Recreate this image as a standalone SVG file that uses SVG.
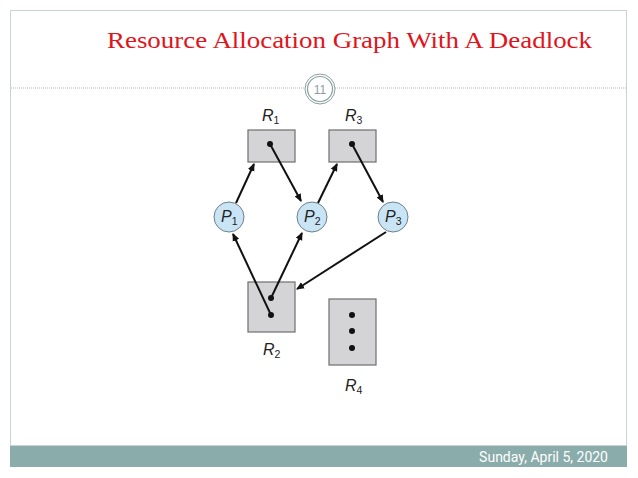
<svg xmlns="http://www.w3.org/2000/svg" width="638" height="478" viewBox="0 0 638 478">
<style>
.res{fill:#d4d4d6;stroke:#6e6e6e;stroke-width:1.2}
.proc{fill:#c9e4f5;stroke:#6e7f8a;stroke-width:1}
.dot{fill:#111}
.lbl{font-family:"Liberation Sans",Arial,sans-serif;font-style:italic;font-size:16px;fill:#222}
.sub{font-size:10.5px;font-style:normal}
.edge{stroke:#111;stroke-width:2;fill:none;marker-end:url(#ah)}
</style>
<defs>
<marker id="ah" markerWidth="8" markerHeight="8" refX="7" refY="4" orient="auto" markerUnits="userSpaceOnUse">
<path d="M0,0.5 L8,4 L0,7.5 Z" fill="#111"/>
</marker>
</defs>
<rect x="0" y="0" width="638" height="478" fill="#fff"/>
<rect x="10.5" y="10.5" width="616" height="435" fill="#fff" stroke="#c9d3d3" stroke-width="1"/>
<rect x="10" y="446" width="617" height="21" fill="#8aacab"/>
<text x="608" y="462" text-anchor="end" font-family="Roboto,'Liberation Sans',sans-serif" font-size="14" fill="#fff">Sunday, April 5, 2020</text>
<text x="107" y="48" textLength="485" lengthAdjust="spacingAndGlyphs" font-family="'Liberation Serif',serif" font-size="24" fill="#e0141b">Resource Allocation Graph With A Deadlock</text>
<line x1="11" y1="88" x2="626" y2="88" stroke="#a9b9b9" stroke-width="1" stroke-dasharray="1,1"/>
<circle cx="320" cy="89" r="15" fill="#fff" stroke="#8a9e9e" stroke-width="1"/>
<circle cx="320" cy="89" r="12.5" fill="#fff" stroke="#8a9e9e" stroke-width="1.2"/>
<text x="320" y="93.5" text-anchor="middle" font-family="'Liberation Sans',Arial,sans-serif" font-size="12" fill="#8a9e9e">11</text>

<g id="R1">
<rect class="res" x="248" y="130" width="47" height="32"/>
<circle class="dot" cx="270" cy="144" r="3"/>
<text class="lbl" x="262" y="121">R<tspan class="sub" dy="3">1</tspan></text>
</g>
<g id="R3">
<rect class="res" x="329" y="130" width="47" height="32"/>
<circle class="dot" cx="352" cy="144" r="3"/>
<text class="lbl" x="345" y="121">R<tspan class="sub" dy="3">3</tspan></text>
</g>
<g id="R2">
<rect class="res" x="248" y="282" width="47" height="50"/>
<circle class="dot" cx="271" cy="298" r="3"/>
<circle class="dot" cx="271" cy="315" r="3"/>
<text class="lbl" x="263" y="355">R<tspan class="sub" dy="3">2</tspan></text>
</g>
<g id="R4">
<rect class="res" x="329" y="299" width="47" height="66"/>
<circle class="dot" cx="352" cy="315" r="3"/>
<circle class="dot" cx="352" cy="331" r="3"/>
<circle class="dot" cx="352" cy="348" r="3"/>
<text class="lbl" x="345" y="391">R<tspan class="sub" dy="3">4</tspan></text>
</g>
<g id="P1">
<circle class="proc" cx="229" cy="217" r="15"/>
<text class="lbl" x="221" y="222">P<tspan class="sub" dy="3">1</tspan></text>
</g>
<g id="P2">
<circle class="proc" cx="312" cy="217" r="15"/>
<text class="lbl" x="304" y="222">P<tspan class="sub" dy="3">2</tspan></text>
</g>
<g id="P3">
<circle class="proc" cx="393" cy="217" r="15"/>
<text class="lbl" x="385" y="222">P<tspan class="sub" dy="3">3</tspan></text>
</g>

<g id="connectors">
<line class="edge" x1="236" y1="203" x2="254" y2="164"/>
<line class="edge" x1="270" y1="144" x2="301" y2="201"/>
<line class="edge" x1="318" y1="203" x2="337" y2="164"/>
<line class="edge" x1="352" y1="144" x2="383" y2="202"/>
<line class="edge" x1="271" y1="315" x2="233" y2="234"/>
<line class="edge" x1="271" y1="298" x2="302" y2="233"/>
<line class="edge" x1="386" y1="232" x2="297" y2="289"/>
</g>
</svg>
